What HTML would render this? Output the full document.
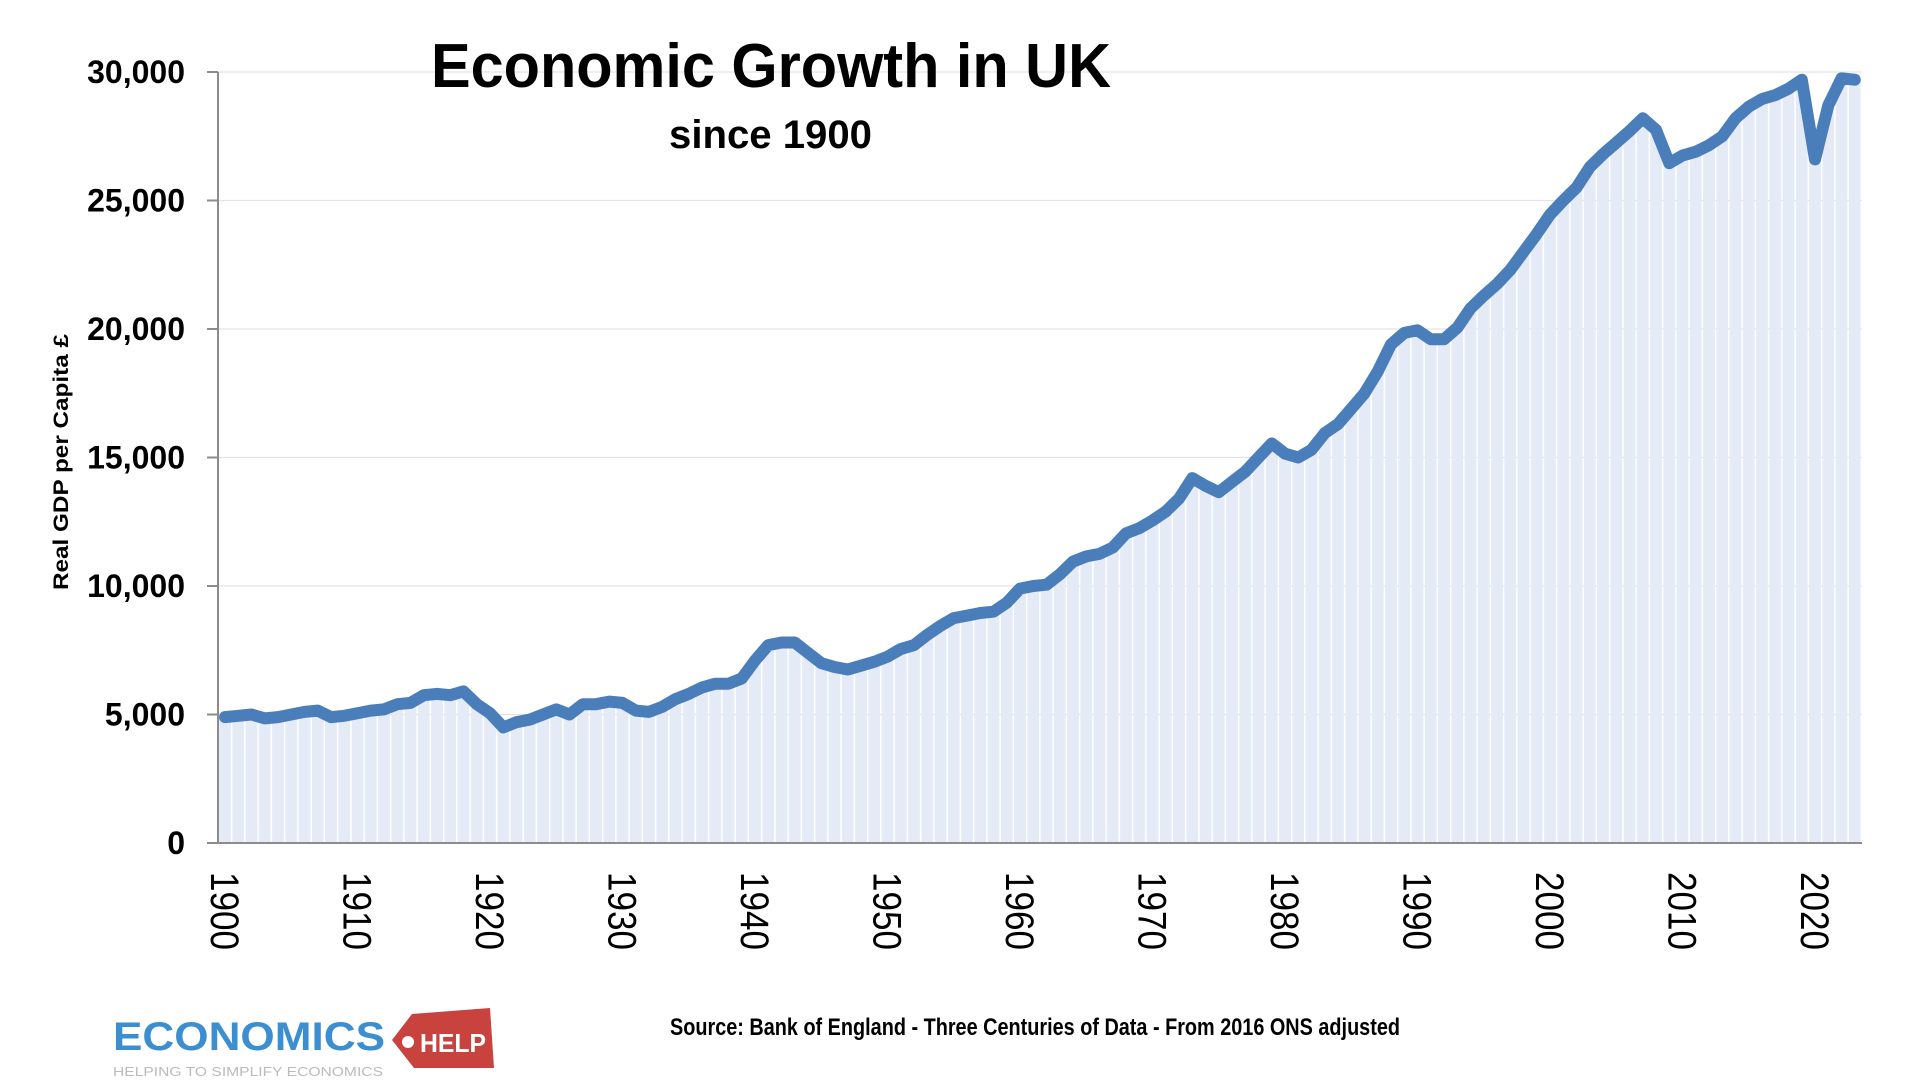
<!DOCTYPE html>
<html><head><meta charset="utf-8"><style>html,body{margin:0;padding:0;background:#fff;}svg{display:block;}</style></head>
<body>
<svg id="c" width="1920" height="1080" xmlns="http://www.w3.org/2000/svg" font-family="Liberation Sans, sans-serif">
<g id="grid"></g>
<g id="bars"></g>
<g id="axis"></g>
<path id="line" fill="none" stroke="#4a7ebb" stroke-width="12" stroke-linejoin="round" stroke-linecap="round"/>
<text x="431" y="87" font-size="62" font-weight="bold" textLength="680" lengthAdjust="spacingAndGlyphs">Economic Growth in UK</text>
<text x="669" y="148" font-size="40" font-weight="bold" textLength="203" lengthAdjust="spacingAndGlyphs">since 1900</text>
<text transform="translate(68,590) rotate(-90)" font-size="21" font-weight="bold" textLength="256" lengthAdjust="spacingAndGlyphs">Real GDP per Capita £</text>
<text x="670" y="1035" font-size="24" font-weight="bold" textLength="730" lengthAdjust="spacingAndGlyphs">Source: Bank of England - Three Centuries of Data - From 2016 ONS adjusted</text>
<g id="ylab" font-size="32" font-weight="bold" text-anchor="end"></g>
<g id="xlab" font-size="40"></g>
<!-- logo -->
<text x="113" y="1050" font-size="40" font-weight="bold" fill="#3b8fd0" textLength="272" lengthAdjust="spacingAndGlyphs">ECONOMICS</text>
<polygon points="392,1040 412,1014 490,1008 494,1068 414,1068" fill="#c8423e"/>
<circle cx="408" cy="1042" r="6" fill="#fff"/>
<text x="420" y="1052" font-size="26" font-weight="bold" fill="#fff" textLength="66" lengthAdjust="spacingAndGlyphs">HELP</text>
<text x="113" y="1076" font-size="13" fill="#bbb" textLength="270" lengthAdjust="spacingAndGlyphs">HELPING TO SIMPLIFY ECONOMICS</text>
</svg>
<script>
var v=[4900,4950,5000,4850,4900,5000,5100,5150,4900,4950,5050,5150,5200,5400,5450,5750,5800,5750,5900,5400,5050,4500,4700,4800,5000,5200,5000,5400,5400,5500,5450,5150,5100,5300,5600,5800,6050,6200,6200,6400,7100,7700,7800,7800,7400,7000,6850,6750,6900,7050,7250,7550,7700,8100,8450,8750,8850,8950,9000,9350,9900,10000,10050,10450,10950,11150,11250,11500,12050,12250,12550,12900,13400,14200,13900,13650,14050,14450,15000,15550,15150,15000,15300,15950,16300,16900,17500,18350,19400,19850,19950,19600,19600,20050,20800,21300,21750,22300,23000,23700,24450,25000,25500,26300,26800,27250,27700,28200,27750,26450,26750,26900,27150,27500,28200,28650,28950,29100,29350,29700,26600,28700,29750,29700];
var NS="http://www.w3.org/2000/svg";
function X(i){return 225+i*13.25;}
function Y(val){return 843-val*771/30000;}
function el(p,t,a,txt){var e=document.createElementNS(NS,t);for(var k in a)e.setAttribute(k,a[k]);if(txt!=null)e.textContent=txt;document.getElementById(p).appendChild(e);return e;}
for(var k=1;k<=6;k++){el('grid','line',{x1:218,x2:1862,y1:Y(k*5000),y2:Y(k*5000),stroke:'#e3e3e3','stroke-width':1.3});}
for(var i=0;i<v.length;i++){el('bars','rect',{x:X(i)-5.9,y:Y(v[i]),width:11.8,height:843-Y(v[i]),fill:'#e4ebf7'});}
el('axis','line',{x1:218,x2:218,y1:72,y2:843,stroke:'#8c8c8c','stroke-width':2});
el('axis','line',{x1:207,x2:1862,y1:843,y2:843,stroke:'#8c8c8c','stroke-width':2});
for(var k=0;k<=6;k++){var y=Y(k*5000);el('axis','line',{x1:207,x2:218,y1:y,y2:y,stroke:'#8c8c8c','stroke-width':2});
 var s=k==0?'0':(k*5)+',000';el('ylab','text',{x:185,y:y+11},s);}
var d='';for(var i=0;i<v.length;i++){d+=(i?'L':'M')+X(i).toFixed(1)+','+Y(v[i]).toFixed(1);}
document.getElementById('line').setAttribute('d',d);
for(var k=0;k<=12;k++){var x=X(k*10);el('xlab','text',{transform:'translate('+(x-14)+',872) rotate(90)',textLength:78,lengthAdjust:'spacingAndGlyphs'},String(1900+k*10));}
</script>
</body></html>
